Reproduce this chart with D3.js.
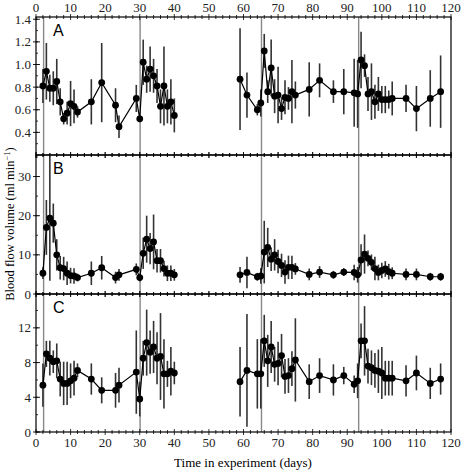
<!DOCTYPE html>
<html><head><meta charset="utf-8">
<script src="https://cdn.jsdelivr.net/npm/d3@7"></script>
<style>body{margin:0;background:#fff}svg{font-family:"Liberation Serif",serif}</style>
</head><body><svg id="chart" width="474" height="474"></svg>
<script>
var days = [2,3,4,5,6,7,8,9,10,11,12,16,19,23,24,29,30,31,32,33,34,35,36,37,38,39,40,
  59,61,64,65,66,67,68,69,70,71,72,73,74,75,79,82,86,89,92,93,94,95,96,97,98,99,100,101,102,103,107,110,114,117];
var valA = [0.81,0.94,0.79,0.79,0.85,0.67,0.52,0.57,0.655,0.63,0.58,0.67,0.84,0.64,0.45,0.70,0.52,1.02,0.87,0.96,0.90,0.81,0.63,0.81,0.63,0.67,0.55,
  0.87,0.73,0.60,0.66,1.12,0.76,0.97,0.72,0.73,0.61,0.71,0.70,0.76,0.73,0.78,0.86,0.76,0.76,0.75,0.74,1.04,0.99,0.74,0.76,0.67,0.74,0.69,0.69,0.69,0.70,0.70,0.61,0.70,0.76];
var errA = [0.15,0.25,0.12,0.15,0.2,0.12,0.05,0.1,0.2,0.15,0.05,0.2,0.35,0.15,0.1,0.12,0.03,0.2,0.12,0.2,0.15,0.15,0.15,0.35,0.15,0.2,0.15,
  0.45,0.2,0.05,0.12,0.15,0.1,0.25,0.15,0.25,0.1,0.15,0.1,0.28,0.12,0.24,0.15,0.1,0.2,0.3,0.3,0.25,0.1,0.15,0.25,0.15,0.15,0.12,0.12,0.08,0.15,0.12,0.2,0.25,0.32];
var valB = [5.3,17.0,19.4,18.1,10.0,6.7,6.5,5.3,4.7,4.6,4.2,5.3,6.7,4.2,4.9,6.3,4.2,10.4,14.0,11.6,13.3,8.5,8.5,6.5,5.3,5.3,4.9,
  4.9,5.5,4.4,4.6,10.7,11.9,8.9,10.0,8.3,7.3,5.6,6.8,6.8,6.4,5.0,5.6,4.9,5.6,5.5,4.9,8.7,10.2,9.1,8.1,6.5,5.5,6.0,6.4,5.7,5.3,5.0,5.0,4.4,4.4];
var errB = [1.5,7,16,5,4,3,3,3,2,2,1,3,3,1.5,1.5,1.5,1,4,6,4,7,3,3,2,2,2,1.5,
  2,4,1,2,8,5,3,4,3,3,3,3,3,1.5,1.5,1.5,1,1,2,2,4,5,2,2,3,2,2,2,2,1.5,1.5,1.5,1,1];
var valC = [5.4,9.0,8.5,8.1,8.2,6.1,5.6,5.6,5.9,6.2,7.1,6.1,4.8,4.8,5.4,6.9,3.8,8.5,10.3,9.2,9.8,8.5,8.7,6.7,6.7,7.0,6.8,
  5.8,7.1,6.7,6.7,10.5,8.2,9.8,7.8,7.9,8.8,6.4,6.5,7.3,8.3,5.8,6.5,6.0,6.5,5.5,5.9,10.5,10.5,7.6,7.4,7.1,7.0,6.8,6.2,6.2,6.2,5.9,6.8,5.6,6.1];
var errC = [2.5,1.5,2,1.3,2,2,2.5,2.5,2,2,0.8,1.8,1.5,2,2,4.8,2,2,3.8,2.5,3,3,5,4,1.5,2.8,1.3,
  4,6.5,4,4,3,3,3,2,2.5,2.5,2,2,2,4.8,2,2,1.8,1,1,2,2,4,2,2,2,2.5,3,2,2,2,1.8,2,1.8,1.8];
var markers = [2.2,30.1,65.2,93.3];
var xTicks = [0,10,20,30,40,50,60,70,80,90,100,110,120];

var svg = d3.select("#chart");
var L = 36, R = 451;
var x = d3.scaleLinear().domain([0,120]).range([L,R]);
var panels = [
  {name:"A", vals:valA, errs:errA, top:17, bot:155, dom:[0.2,1.42], ticks:[0.4,0.6,0.8,1.0,1.2,1.4], fmt:d3.format(".1f"), minor:0.1},
  {name:"B", vals:valB, errs:errB, top:155, bot:294, dom:[0,35.5], ticks:[0,10,20,30], fmt:d3.format("d"), minor:5},
  {name:"C", vals:valC, errs:errC, top:294, bot:432, dom:[0,15.9], ticks:[0,4,8,12], fmt:d3.format("d"), minor:2}
];

// marker lines through all panels
svg.selectAll(".mk").data(markers).enter().append("line")
  .attr("x1", function(d){return x(d);}).attr("x2", function(d){return x(d);})
  .attr("y1", 17).attr("y2", 432).attr("stroke", "#888").attr("stroke-width", 1.4);

var minorX = d3.range(0,121,2);
panels.forEach(function(p){
  var y = d3.scaleLinear().domain(p.dom).range([p.bot,p.top]);
  var g = svg.append("g");
  g.append("rect").attr("x",L).attr("y",p.top).attr("width",R-L).attr("height",p.bot-p.top)
    .attr("fill","none").attr("stroke","#000").attr("stroke-width",1.2);
  // x ticks on top and bottom edges, both directions
  [p.top,p.bot].forEach(function(yy){
    g.selectAll(null).data(minorX).enter().append("line")
      .attr("x1",function(d){return x(d);}).attr("x2",function(d){return x(d);})
      .attr("y1",function(d){return yy-(d%10==0?3:2);}).attr("y2",function(d){return yy+(d%10==0?3:2);})
      .attr("stroke","#000").attr("stroke-width",0.8);
  });
  // y axis
  var minorY = d3.range(p.dom[0], p.dom[1], p.minor);
  g.selectAll(null).data(minorY).enter().append("line")
    .attr("x1",L).attr("x2",L+2).attr("y1",function(d){return y(d);}).attr("y2",function(d){return y(d);})
    .attr("stroke","#000").attr("stroke-width",0.8);
  g.selectAll(null).data(p.ticks).enter().append("line")
    .attr("x1",L-3).attr("x2",L+4).attr("y1",function(d){return y(d);}).attr("y2",function(d){return y(d);})
    .attr("stroke","#000").attr("stroke-width",0.9);
  g.selectAll(null).data(p.ticks).enter().append("text")
    .attr("x",L-5).attr("y",function(d){return y(d);}).attr("dy","0.35em")
    .attr("text-anchor","end").attr("font-size",13).attr("fill","#222").text(p.fmt);
  g.append("text").attr("x",53).attr("y",p.top+19).attr("font-family","Liberation Sans, sans-serif")
    .attr("font-size",16).text(p.name);

  var pts = days.map(function(d,i){return {d:d, v:p.vals[i], e:p.errs[i]};});
  // error bars
  g.selectAll(null).data(pts).enter().append("line")
    .attr("x1",function(d){return x(d.d);}).attr("x2",function(d){return x(d.d);})
    .attr("y1",function(d){return Math.max(p.top,y(d.v-d.e));}).attr("y2",function(d){return Math.max(p.top,y(d.v+d.e));})
    .attr("stroke","#333").attr("stroke-width",1.6);
  // lines, broken at the gap
  var segs = [pts.filter(function(d){return d.d<=40;}), pts.filter(function(d){return d.d>40;})];
  var line = d3.line().x(function(d){return x(d.d);}).y(function(d){return y(d.v);});
  g.selectAll(null).data(segs).enter().append("path").attr("d",line)
    .attr("fill","none").attr("stroke","#000").attr("stroke-width",1.2);
  g.selectAll(null).data(pts).enter().append("circle")
    .attr("cx",function(d){return x(d.d);}).attr("cy",function(d){return y(d.v);})
    .attr("r",3.4).attr("fill","#000");
});

// x tick labels top and bottom
svg.selectAll(".xt").data(xTicks).enter().append("text")
  .attr("x",function(d){return x(d);}).attr("y",12).attr("text-anchor","middle")
  .attr("font-size",13).attr("fill","#222").text(function(d){return d;});
svg.selectAll(".xb").data(xTicks).enter().append("text")
  .attr("x",function(d){return x(d);}).attr("y",447).attr("text-anchor","middle")
  .attr("font-size",13).attr("fill","#222").text(function(d){return d;});
svg.append("text").attr("x",243).attr("y",467).attr("text-anchor","middle")
  .attr("font-size",13).text("Time in experiment (days)");
var yl = svg.append("text").attr("transform","translate(14,224) rotate(-90)")
  .attr("text-anchor","middle").attr("font-size",12.5);
yl.append("tspan").text("Blood flow volume (ml min");
yl.append("tspan").attr("dy",-4).attr("font-size",8.5).text("−1");
yl.append("tspan").attr("dy",4).text(")");
</script></body></html>
